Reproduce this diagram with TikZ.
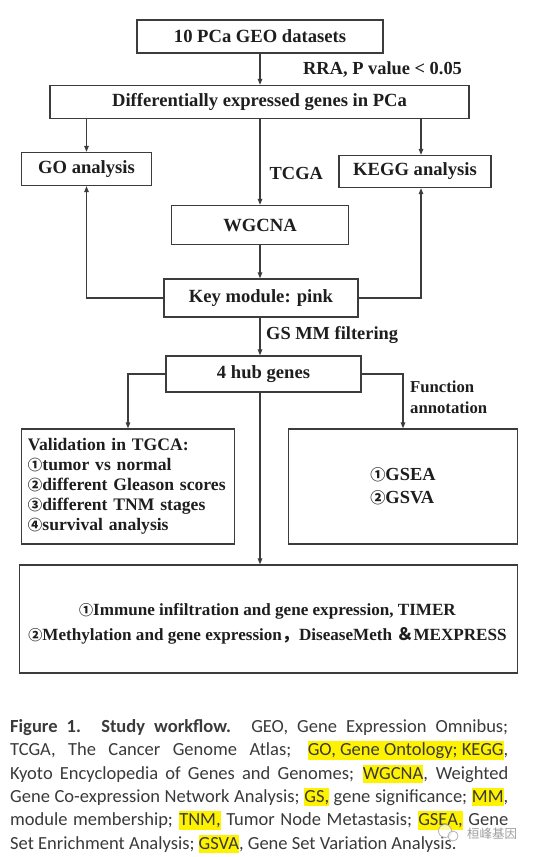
\documentclass[tikz,border=0pt]{standalone}
\usepackage{fontspec}
\setmainfont{Liberation Serif}
\newfontfamily\capfont{Carlito}
\newfontfamily\cjk{Noto Sans CJK SC}
\newfontfamily\cjkc{Noto Sans CJK SC}[Scale=0.82]
\usetikzlibrary{arrows.meta}
\definecolor{ln}{HTML}{3C3C3C}
\definecolor{tx}{HTML}{1E1E1E}
\definecolor{captx}{HTML}{3A3A3A}
\definecolor{hly}{HTML}{FFF200}
\newcommand\cn[1]{{\cjk #1}}
\newcommand\cnum[1]{{\cjkc #1}}
\newcommand\hlt[1]{{\setlength\fboxsep{0pt}\colorbox{hly}{\rule[-0.22em]{0pt}{0.98em}#1}}}
\begin{document}
\begin{tikzpicture}[x=1bp,y=-1bp,
 box/.style={draw=ln, line width=1.3bp, inner sep=0pt, font=\bfseries\fontsize{18.6bp}{20bp}\selectfont, text=tx},
 lbl/.style={inner sep=0pt, font=\bfseries\fontsize{18.4bp}{20bp}\selectfont, text=tx},
 arr/.style={draw=ln, line width=1.2bp, -{Triangle[length=6bp,width=4.5bp]}},
 capline/.style={anchor=base west, inner sep=0pt, font=\capfont\fontsize{18.5bp}{23bp}\selectfont, text=captx}]
\useasboundingbox[fill=white] (0,0) rectangle (533,857);
\coordinate (mainx) at (260,0);
\coordinate (keggx) at (421,0);
% boxes
\node[box, minimum width=246bp, minimum height=33bp] (geo) at (260,36.5) {10 PCa GEO datasets};
\node[box, minimum width=419bp, minimum height=33bp] (deg) at (259.5,102) {Differentially expressed genes in PCa};
\node[box, minimum width=130bp, minimum height=33bp] (go) at (86.5,169) {GO analysis};
\node[box, minimum width=152bp, minimum height=32bp] (kegg) at (415,171.5) {KEGG analysis};
\node[box, minimum width=177bp, minimum height=39bp] (wgcna) at (260,225) {WGCNA};
\node[box, minimum width=194bp, minimum height=38bp] (key) at (261,298) {Key module: pink};
\node[box, minimum width=195bp, minimum height=36bp] (hub) at (263.5,374) {4 hub genes};
\node[box, minimum width=213bp, minimum height=115bp, text width=200bp, align=left,
      font=\bfseries\fontsize{17.6bp}{20bp}\selectfont] (val) at (128,486.5)
 {Validation in TGCA:\\\cnum{①}tumor vs normal\\\cnum{②}different Gleason scores\\\cnum{③}different TNM stages\\\cnum{④}survival analysis};
\node[box, minimum width=229bp, minimum height=115bp, align=left,
      font=\bfseries\fontsize{18.4bp}{22.5bp}\selectfont] (gsea) at (403,486.5) {\cnum{①}GSEA\\\cnum{②}GSVA};
\node[box, minimum width=498bp, minimum height=108bp] (big) at (268.5,619) {};
\node[lbl, align=center, font=\bfseries\fontsize{17.1bp}{25bp}\selectfont] (bigtxt) at (267.5,623.5)
 {\cnum{①}Immune infiltration and gene expression, TIMER\\\cnum{②}Methylation and gene expression\cn{，}DiseaseMeth \cn{＆}MEXPRESS};
% labels
\node[lbl, anchor=west] (rra) at (303,69.5) {RRA, P value < 0.05};
\node[lbl, anchor=west] (tcga) at (269.5,173) {TCGA};
\node[lbl, anchor=west] (gsmm) at (266,335) {GS MM filtering};
\node[lbl, anchor=west, align=left, font=\bfseries\fontsize{16.7bp}{21bp}\selectfont] (func) at (410,397.5) {Function\\annotation};
% connectors
\draw[arr] (geo.south -| mainx) -- (deg.north -| mainx);
\draw[arr] (go.north |- deg.south) -- (go.north);
\draw[arr] (deg.south -| keggx) -- (kegg.north -| keggx);
\draw[arr] (deg.south -| mainx) -- (wgcna.north -| mainx);
\draw[arr] (wgcna.south -| mainx) -- (key.north -| mainx);
\draw[arr] (key.west) -| (go.south);
\draw[arr] (key.east) -| (kegg.south -| keggx);
\draw[arr] (key.south -| mainx) -- (hub.north -| mainx);
\draw[arr] (hub.west) -| (val.north);
\draw[arr] (hub.east) -| (gsea.north);
\draw[arr] (hub.south -| mainx) -- (big.north -| mainx);
% caption
\node[capline] (c1) at (10,732) {\makebox[498bp][s]{\textbf{Figure 1. Study workflow.} GEO, Gene Expression Omnibus;}};
\node[capline] (c2) at (10,755.5) {\makebox[498bp][s]{TCGA, The Cancer Genome Atlas; \hlt{GO, Gene Ontology; KEGG},}};
\node[capline] (c3) at (10,779) {\makebox[498bp][s]{Kyoto Encyclopedia of Genes and Genomes; \hlt{WGCNA}, Weighted}};
\node[capline] (c4) at (10,802) {\makebox[498bp][s]{Gene Co-expression Network Analysis; \hlt{GS,} gene significance; \hlt{MM},}};
\node[capline] (c5) at (10,825.5) {\makebox[498bp][s]{module membership; \hlt{TNM,} Tumor Node Metastasis; \hlt{GSEA,} Gene}};
\node[capline] (c6) at (10,849) {Set Enrichment Analysis; \hlt{GSVA}, Gene Set Variation Analysis.};
% watermark
\draw[gray!60, line width=0.8bp, fill=white, fill opacity=0.6] (445,831) circle (6.5bp);
\draw[gray!60, line width=0.8bp, fill=white, fill opacity=0.6] (453,836) circle (5bp);
\node[inner sep=0pt, font=\cjk\fontsize{12.5bp}{13bp}\selectfont, text=gray!75] (wm) at (492,834) {桓峰基因};
\end{tikzpicture}
\end{document}
